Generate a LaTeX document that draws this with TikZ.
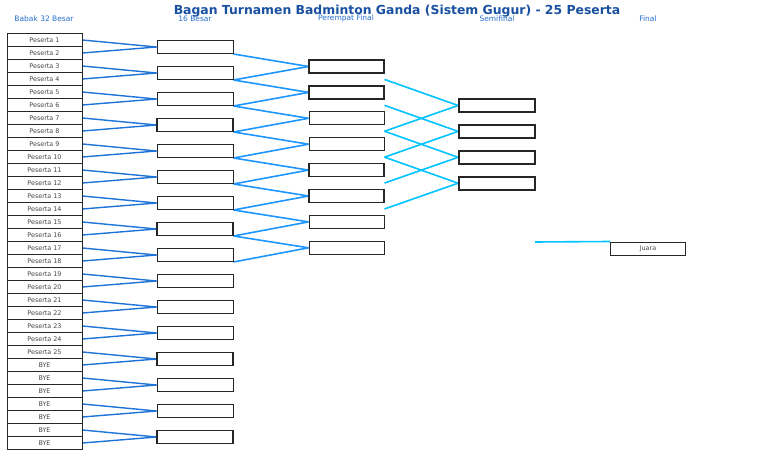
\documentclass[tikz,border=0pt]{standalone}
\usepackage{fontspec}
\setmainfont{DejaVu Sans}
\usetikzlibrary{calc}
\definecolor{titleblue}{RGB}{25,80,160}
\definecolor{headblue}{RGB}{35,110,205}
\definecolor{lineA}{RGB}{30,115,215}
\definecolor{lineB}{RGB}{30,150,255}
\definecolor{lineC}{RGB}{0,195,255}
\definecolor{boxtext}{RGB}{70,70,70}
\tikzset{
  slot/.style={draw=black!85, line width=1pt, fill=white, minimum height=13pt, inner sep=0pt, font=\fontsize{6.4}{7}\selectfont, text=boxtext},
  slotA/.style={slot, minimum width=75pt},
  slotB/.style={slot, minimum width=76pt},
  thickslot/.style={line width=1.8pt},
  head/.style={font=\fontsize{7.5}{8}\selectfont, text=headblue},
  connA/.style={draw=lineA, line width=1.4pt},
  connB/.style={draw=lineB, line width=1.6pt},
  connC/.style={draw=lineC, line width=1.6pt},
}
\begin{document}
\begin{tikzpicture}[x=1pt,y=-1pt]
\useasboundingbox (0,0) rectangle (768,457);
% title and headers
\node[font=\fontsize{12.4}{14}\bfseries, text=titleblue] (title) at (397,11.5) {Bagan Turnamen Badminton Ganda (Sistem Gugur) - 25 Peserta};
\node[head] (h1) at (44,18.5) {Babak 32 Besar};
\node[head] (h2) at (195,18.5) {16 Besar};
\node[head] (h3) at (346,18.5) {Perempat Final};
\node[head] (h4) at (497,18.5) {Semifinal};
\node[head] (h5) at (648,18.5) {Final};
% round of 32 nodes
\foreach \i/\t in {1/Peserta 1,2/Peserta 2,3/Peserta 3,4/Peserta 4,5/Peserta 5,6/Peserta 6,7/Peserta 7,8/Peserta 8,9/Peserta 9,10/Peserta 10,11/Peserta 11,12/Peserta 12,13/Peserta 13,14/Peserta 14,15/Peserta 15,16/Peserta 16,17/Peserta 17,18/Peserta 18,19/Peserta 19,20/Peserta 20,21/Peserta 21,22/Peserta 22,23/Peserta 23,24/Peserta 24,25/Peserta 25,26/BYE,27/BYE,28/BYE,29/BYE,30/BYE,31/BYE,32/BYE}{
  \node[slotA] (a\i) at (44.5,{40+13*(\i-1)}) {\t};
}
% positions of later rounds
\foreach \k in {1,...,16}{
  \coordinate (bc\k) at (195,{47+26*(\k-1)});
}
\foreach \k in {1,...,8}{
  \coordinate (qc\k) at (346.5,{66.5+25.9*(\k-1)});
}
\foreach \k in {1,...,4}{
  \coordinate (sc\k) at (497,{105.5+25.9*(\k-1)});
}
% named nodes for rounds
\foreach \k in {1,...,16}{
  \node[slotB] (b\k) at (bc\k) {};
}
\foreach \k in {1,...,8}{
  \node[slotA] (q\k) at (qc\k) {};
}
\foreach \k in {1,...,4}{
  \node[slotB, thickslot] (s\k) at (sc\k) {};
}
\node[slotA] (juara) at (648,248.5) {Juara};
% connectors round 32 -> 16
\foreach \k in {1,...,16}{
  \pgfmathtruncatemacro{\u}{2*\k-1}
  \pgfmathtruncatemacro{\v}{2*\k}
  \draw[connA] (a\u.east) -- (b\k.west);
  \draw[connA] (a\v.east) -- (b\k.west);
}
% round 16 -> QF
\foreach \k in {1,...,8}{
  \pgfmathtruncatemacro{\n}{\k+1}
  \draw[connB] (b\k.south east) -- (q\k.west);
  \draw[connB] (b\n.south east) -- (q\k.west);
}
% QF -> SF
\foreach \j in {1,...,6}{
  \pgfmathtruncatemacro{\n}{\j+1}
  \coordinate (p\j) at ($(q\j.east)!0.5!(q\n.east)$);
}
\foreach \k in {1,...,4}{
  \pgfmathtruncatemacro{\n}{\k+2}
  \draw[connC] (p\k) -- (s\k.west);
  \draw[connC] (p\n) -- (s\k.west);
}
\coordinate (fl) at (535,242);
\draw[connC] (fl) -- (juara.north west);
% redraw boxes on top of the connectors
\foreach \i/\t in {1/Peserta 1,2/Peserta 2,3/Peserta 3,4/Peserta 4,5/Peserta 5,6/Peserta 6,7/Peserta 7,8/Peserta 8,9/Peserta 9,10/Peserta 10,11/Peserta 11,12/Peserta 12,13/Peserta 13,14/Peserta 14,15/Peserta 15,16/Peserta 16,17/Peserta 17,18/Peserta 18,19/Peserta 19,20/Peserta 20,21/Peserta 21,22/Peserta 22,23/Peserta 23,24/Peserta 24,25/Peserta 25,26/BYE,27/BYE,28/BYE,29/BYE,30/BYE,31/BYE,32/BYE}{
  \node[slotA] at (44.5,{40+13*(\i-1)}) {\t};
}
\foreach \k in {1,...,16}{
  \node[slotB] at (bc\k) {};
}
\foreach \k in {4,8,13,16}{
  \node[slotB, thickslot] at (bc\k) {};
}
\foreach \k in {1,...,8}{
  \node[slotA] at (qc\k) {};
}
\foreach \k in {1,2,5,6}{
  \node[slotA, thickslot] at (qc\k) {};
}
\foreach \k in {1,...,4}{
  \node[slotB, thickslot] at (sc\k) {};
}
\node[slotA] at (648,248.5) {Juara};
\end{tikzpicture}
\end{document}
